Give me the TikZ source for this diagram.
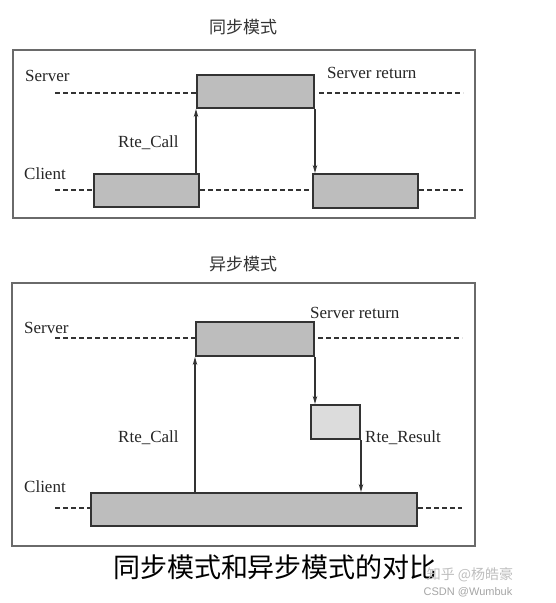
\documentclass[tikz,border=0pt]{standalone}
\usepackage{fontspec}
\setmainfont{Liberation Serif}
\newfontfamily\cjk{Noto Sans CJK SC}
\usetikzlibrary{arrows.meta}
\definecolor{boxfill}{HTML}{BDBDBD}
\definecolor{lightfill}{HTML}{DCDCDC}
\definecolor{framecol}{HTML}{6A6A6A}
\definecolor{boxline}{HTML}{333333}
\begin{document}
\begin{tikzpicture}[x=1pt,y=-1pt,
  frame/.style={draw=framecol,line width=1.2pt},
  bar/.style={draw=boxline,fill=boxfill,line width=2pt,rectangle,inner sep=0pt,anchor=north west},
  lightbar/.style={bar,fill=lightfill},
  dashline/.style={draw=boxline,line width=1.1pt,dash pattern=on 5pt off 3pt},
  arr/.style={draw=boxline,line width=1.1pt,-{Stealth[length=8pt,width=4.5pt]}},
  lbl/.style={inner sep=0pt,anchor=base west,font=\fontsize{17}{20}\selectfont,text=black!85},
  ttl/.style={inner sep=0pt,font=\cjk\fontsize{17}{20}\selectfont,text=black!80},
]
\useasboundingbox[fill=white] (0,0) rectangle (556,603);

% ---------- synchronous ----------
\node[ttl] (t1) at (243,27) {同步模式};
\draw[frame] (13,50) rectangle (475,218);
\node[bar,minimum width=117pt,minimum height=33pt] (s1) at (196,74) {};
\node[bar,minimum width=105pt,minimum height=33pt] (c1) at (93,173) {};
\node[bar,minimum width=105pt,minimum height=34pt] (c2) at (312,173) {};
\coordinate (s1L) at (55,93);
\coordinate (s1R) at (463,93);
\coordinate (c1L) at (55,190);
\coordinate (c1R) at (463,190);
\draw[dashline] (s1L) -- (s1L -| s1.west);
\draw[dashline] (s1R -| s1.east) ++(4,0) -- (s1R);
\draw[dashline] (c1L) -- (c1L -| c1.west);
\draw[dashline] (c1L -| c1.east) -- (c1L -| c2.west);
\draw[dashline] (c1R -| c2.east) -- (c1R);
\draw[arr] (s1.south west |- c1.north) -- (s1.south west);
\draw[arr] (s1.south east) -- (s1.south east |- c2.north);
\node[lbl] (sv1) at (25,81) {Server};
\node[lbl] (sr1) at (327,78) {Server return};
\node[lbl] (rc1) at (118,147) {Rte\_Call};
\node[lbl] (cl1) at (24,179) {Client};

% ---------- asynchronous ----------
\node[ttl] (t2) at (243,264) {异步模式};
\draw[frame] (12,283) rectangle (475,546);
\node[bar,minimum width=118pt,minimum height=34pt] (s2) at (195,321) {};
\node[lightbar,minimum width=49pt,minimum height=34pt] (r2) at (310,404) {};
\node[bar,minimum width=326pt,minimum height=33pt] (c3) at (90,492) {};
\coordinate (s2L) at (55,338);
\coordinate (s2R) at (462,338);
\coordinate (c3L) at (55,508);
\coordinate (c3R) at (462,508);
\draw[dashline] (s2L) -- (s2L -| s2.west);
\draw[dashline] (s2R -| s2.east) ++(3,0) -- (s2R);
\draw[dashline] (c3L) -- (c3L -| c3.west);
\draw[dashline] (c3R -| c3.east) -- (c3R);
\draw[arr] (s2.south west |- c3.north) -- (s2.south west);
\draw[arr] (s2.south east) -- (s2.south east |- r2.north);
\draw[arr] (r2.south east) -- (r2.south east |- c3.north);
\node[lbl] (sv2) at (24,333) {Server};
\node[lbl] (sr2) at (310,318) {Server return};
\node[lbl] (rc2) at (118,442) {Rte\_Call};
\node[lbl] (rr2) at (365,442) {Rte\_Result};
\node[lbl] (cl2) at (24,492) {Client};

% ---------- caption ----------
\node[inner sep=0pt,font=\cjk\fontsize{27}{30}\selectfont] (cap) at (275,567) {同步模式和异步模式的对比};
\node[inner sep=0pt,font=\cjk\fontsize{14}{16}\selectfont,text=black!25] (wm1) at (470,575) {知乎 @杨皓豪};
\node[inner sep=0pt,font=\fontspec{Liberation Sans}\fontsize{11}{12}\selectfont,text=black!35] (wm2) at (468,592) {CSDN @Wumbuk};
\end{tikzpicture}
\end{document}
